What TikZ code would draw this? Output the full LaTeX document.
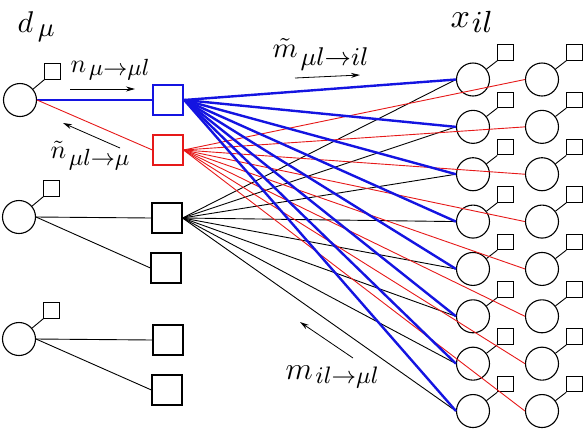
\documentclass[tikz,border=0pt]{standalone}
\usetikzlibrary{arrows.meta,calc}
\DeclareMathSizes{10}{10}{9}{7}
\DeclareMathSizes{12}{12}{9}{7}
\definecolor{myblue}{RGB}{20,20,225}
\definecolor{myred}{RGB}{230,25,25}
\begin{document}
\begin{tikzpicture}[x=1pt,y=-1pt,
  circ/.style={draw,circle,minimum size=33pt,inner sep=0,line width=1.1pt},
  bigsq/.style={draw,rectangle,minimum size=30pt,inner sep=0,line width=1.1pt},
  smallsq/.style={draw,rectangle,minimum size=15.5pt,inner sep=0,line width=1pt},
  blk/.style={line width=0.9pt},
  bluel/.style={myblue,line width=2.4pt},
  redl/.style={myred,line width=0.9pt},
  lab/.style={inner sep=0,anchor=base west},
  lab12/.style={inner sep=0,anchor=base west,font=\fontsize{12}{14}\selectfont},
  msg/.style={line width=0.8pt,-{Stealth[length=9pt,width=5pt]}}]
\path[use as bounding box] (0,0) rectangle (586,432);
% left variable circles
\node[circ] (L1) at (20,100) {};
\node[circ] (L2) at (19,217) {};
\node[circ] (L3) at (19,339) {};
\foreach \i in {1,2,3} {
  \node[smallsq] (Lq\i) at ($(L\i)+(32.5,-28.5)$) {};
}
% factor squares
\node[bigsq,draw=myblue,line width=2.4pt] (S1) at (168,100) {};
\node[bigsq,draw=myred] (S2) at (168,150) {};
\node[bigsq] (S3) at (167,218) {};
\node[bigsq] (S4) at (166,268) {};
\node[bigsq] (S5) at (168,340) {};
\node[bigsq] (S6) at (167,390) {};
% right circles
\foreach \k in {1,...,8} {
  \node[circ] (A\k) at (473,{79.5+47.36*(\k-1)}) {};
  \node[circ] (B\k) at (542,{79.5+47.36*(\k-1)}) {};
  \node[smallsq] (Aq\k) at ($(A\k)+(32.5,-27)$) {};
  \node[smallsq] (Bq\k) at ($(B\k)+(32.5,-27)$) {};
  \draw[blk] (A\k) -- (Aq\k.south west);
  \draw[blk] (B\k) -- (Bq\k.south west);
}
\foreach \i in {1,2,3} {\draw[blk] (L\i) -- (Lq\i.south west);}
% left connections
\draw[myblue,line width=1.8pt] (L1.east) -- (S1.west);
\draw[redl] (L1.east) -- (S2.west);
\draw[blk] (L2.east) -- (S3.west);
\draw[blk] (L2.east) -- (S4.west);
\draw[blk] (L3.east) -- (S5.west);
\draw[blk] (L3.east) -- (S6.west);
% fan-out connections
\foreach \k in {1,...,8} {\draw[blk] (S3.east) -- (A\k.west);}
\foreach \k in {1,...,8} {\draw[redl] (S2.east) -- (B\k.west);}
\foreach \k in {1,...,8} {\draw[bluel] (S1.east) -- (A\k.west);}
% labels
\node[lab,scale=3.0] (dmu) at (17,32) {$d_{\mkern3mu\mu}$};
\node[lab,scale=3.4] (xil) at (450,27) {$x_{\mkern1mu\smash{il}}$};
\node[lab,scale=2.6] (nlab) at (70,72) {$n_{\mkern2mu\smash{\mu\to\mu l}}$};
\node[lab,scale=2.6] (ntlab) at (50,158) {$\tilde n_{\mkern2mu\mu l\to\mu}$};
\node[lab,scale=2.85] (mtlab) at (272,57) {$\tilde m_{\mkern2mu\mu l\to il}$};
\node[lab12,scale=2.65] (mlab) at (285,379) {$m_{\mkern2mu\smash{il\to\mu l}}$};
% message arrows
\coordinate (n1) at (70,89); \coordinate (n2) at (135,89);
\coordinate (nt1) at (120,148); \coordinate (nt2) at (63,123);
\coordinate (mt1) at (295,78); \coordinate (mt2) at (360,75);
\coordinate (m1) at (353,358); \coordinate (m2) at (300,322);
\draw[msg] (n1) -- (n2);
\draw[msg] (nt1) -- (nt2);
\draw[msg] (mt1) -- (mt2);
\draw[msg] (m1) -- (m2);
\end{tikzpicture}
\end{document}
